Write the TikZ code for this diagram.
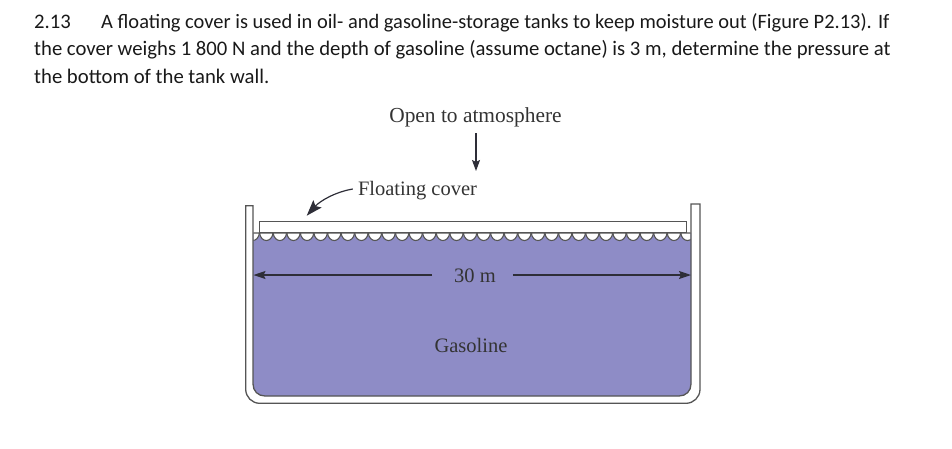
\documentclass[tikz,border=0pt]{standalone}
\usepackage{fontspec}
\setmainfont{Liberation Serif}
\newfontfamily\probfont{Carlito}
\usetikzlibrary{arrows.meta}
\definecolor{liquid}{HTML}{8E8CC6}
\definecolor{wallline}{HTML}{555555}
\definecolor{inkline}{HTML}{2E2E38}
\definecolor{figtext}{HTML}{333333}
\tikzset{
  prob/.style={anchor=base west,inner sep=0pt,font=\probfont\fontsize{20.7}{22}\selectfont,text=black!90},
  figlabel/.style={font=\fontsize{20.5}{22}\selectfont,text=figtext,inner sep=0pt},
  wallshape/.style={line width=1.3pt},
  coverbox/.style={draw=wallline,line width=1.3pt},
  bubble/.style={draw=wallline,fill=white,line width=1.1pt},
  pointer/.style={draw=inkline,line width=1.2pt,-{Stealth[length=12pt,width=8pt,inset=2pt]}},
}
\newcommand{\vesselpath}{(245.7,205.7) -- (245.7,389.3) .. controls (245.7,397) and (252,403.3) .. (259.7,403.3) -- (686,403.3) .. controls (693.7,403.3) and (700,397) .. (700,389.3) -- (700,204) -- (691,204) -- (691,384) .. controls (691,391) and (686,396) .. (679,396) -- (265,396) .. controls (258,396) and (253,391) .. (253,384) -- (253,205.7) -- cycle}
\begin{document}
\begin{tikzpicture}[x=1pt,y=-1pt]
\useasboundingbox (0,0) rectangle (952,448);
% problem text
\node[prob] (num) at (34,28) {2.13};
\node[prob,font=\probfont\fontsize{20.45}{22}\selectfont] (l1) at (101,28) {A floating cover is used in oil- and gasoline-storage tanks to keep moisture out (Figure P2.13). If};
\node[prob] (l2) at (34,55) {the cover weighs 1 800 N and the depth of gasoline (assume octane) is 3 m, determine the pressure at};
\node[prob] (l3) at (34,83) {the bottom of the tank wall.};
% liquid
\fill[liquid] (253,233) -- (691,233) -- (691,384) .. controls (691,391) and (686,396) .. (679,396) -- (265,396) .. controls (258,396) and (253,391) .. (253,384) -- cycle;
\begin{scope}
\clip (253.4,225) rectangle (690.6,250);
\foreach \k in {-1,...,31}{
  \pgfmathsetmacro{\xa}{259.5+13.587*\k}
  \pgfmathsetmacro{\xb}{\xa+13.587}
  \draw[bubble] (\xa,233) .. controls (\xa+1.5,243) and (\xb-1.5,243) .. (\xb,233) -- cycle;
}
\end{scope}
% vessel
\draw[wallshape,draw=wallline] \vesselpath;
% cover
\draw[coverbox] (259.3,232.6) -- (259.3,221.7) -- (686.7,221.7) -- (686.7,232.6);
\draw[wallline,line width=1.1pt] (259.3,232.6) -- (686.7,232.6);
% labels
\node[figlabel,font=\fontsize{21.4}{23}\selectfont] (open) at (475.5,117) {Open to atmosphere};
\node[figlabel] (cover) at (417.5,191) {Floating cover};
\node[figlabel,inner xsep=17pt,inner ysep=3pt] (dim) at (475,276) {30 m};
\node[figlabel] (gas) at (471,345.5) {Gasoline};
% connectors
\coordinate (openend) at (476,171);
\coordinate (coverend) at (306.7,215.7);
\coordinate (wallL) at (253.5,275);
\coordinate (wallR) at (691,275);
\draw[pointer,-{Stealth[length=11pt,width=8pt,inset=2pt]}] (476,133) -- (openend);
\draw[pointer,-{Stealth[length=16pt,width=11pt,inset=3pt]}] ([xshift=-5pt,yshift=2pt]cover.west) .. controls (335,192) and (320,201) .. (coverend);
\draw[pointer] ([xshift=-5pt,yshift=1pt]dim.west) -- (wallL);
\draw[pointer] ([yshift=1pt]dim.east) -- (wallR);
\end{tikzpicture}
\end{document}
